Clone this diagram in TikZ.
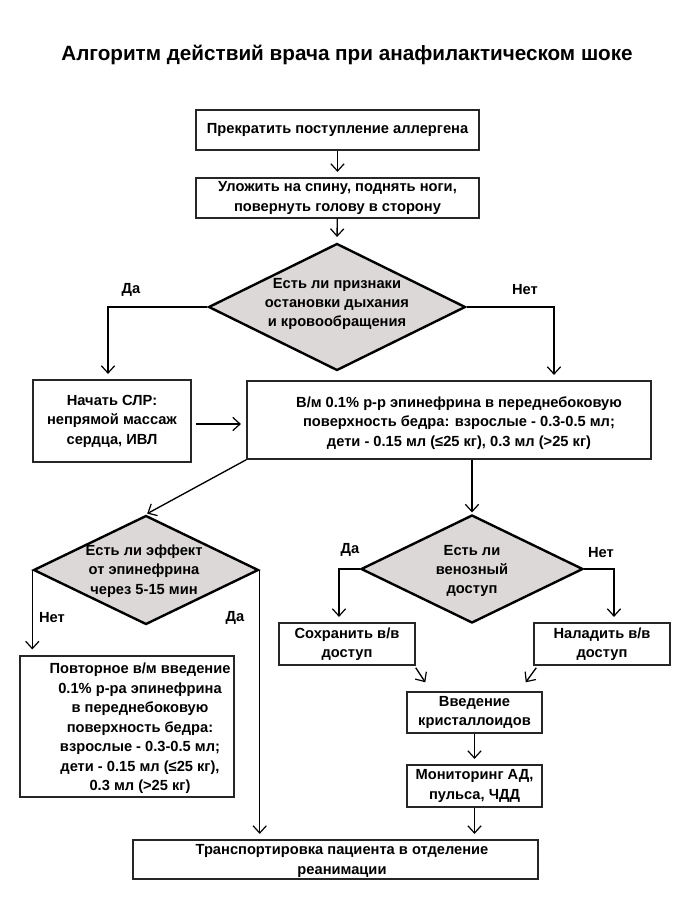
\documentclass[tikz,border=0pt]{standalone}
\usepackage{fontspec}
\setmainfont{Liberation Sans}
\usetikzlibrary{shapes.geometric,arrows.meta,calc}
\definecolor{dgray}{HTML}{DCD8D8}
\begin{document}
\begin{tikzpicture}[x=0.75pt,y=-0.75pt,
  every node/.style={font=\bfseries\fontsize{11pt}{14.6pt}\selectfont, align=center, inner sep=0pt},
  bx/.style n args={2}{draw=black!85, line width=1.1pt, minimum width=#1*0.75pt, minimum height=#2*0.75pt},
  dm/.style n args={2}{diamond, draw=black, line width=1.8pt, fill=dgray, minimum width=#1*0.75pt, minimum height=#2*0.75pt},
  arr/.style={draw=black, line width=1pt, -{Straight Barb[length=5.5pt,width=10pt,line width=0.9pt]}, shorten >=4pt},
  lbl/.style={font=\bfseries\fontsize{11pt}{12pt}\selectfont}]
\useasboundingbox[fill=white] (0,0) rectangle (685,917);

\node[font=\bfseries\fontsize{15.5pt}{18pt}\selectfont] (title) at (347,55) {Алгоритм действий врача при анафилактическом шоке};

\node[bx={283}{40}] (b1) at (337.5,130) {Прекратить поступление аллергена};
\node[bx={283}{40}] (b2) at (337.5,198) {Уложить на спину, поднять ноги,\\повернуть голову в сторону};
\node[dm={257}{127}] (d1) at (337,307) {};
\node (d1t) at (337,304) {Есть ли признаки\\остановки дыхания\\и кровообращения};

\node[bx={158}{82}] (cpr) at (112,421) {Начать СЛР:\\непрямой массаж\\сердца, ИВЛ};
\node[bx={404}{78}] (big) at (449,420) {};
\node (bigt) at (459,423) {В/м 0.1\% р-р эпинефрина в переднебоковую\\поверхность бедра: взрослые - 0.3-0.5 мл;\\дети - 0.15 мл (≤25 кг), 0.3 мл (>25 кг)};

\node[dm={225}{109}] (d2) at (146,570) {};
\node (d2t) at (144,571) {Есть ли эффект\\от эпинефрина\\через 5-15 мин};
\node[dm={222}{108}] (d3) at (472,569) {};
\node (d3t) at (472,571) {Есть ли\\венозный\\доступ};

\node[bx={136}{42}] (sav) at (347,644) {Сохранить в/в\\доступ};
\node[bx={136}{42}] (nal) at (602,644) {Наладить в/в\\доступ};

\node[bx={214}{141}, line width=1.8pt] (rep) at (127,726.5) {};
\node (rept) at (140,728.5) {Повторное в/м введение\\0.1\% р-ра эпинефрина\\в переднебоковую\\поверхность бедра:\\взрослые - 0.3-0.5 мл;\\дети - 0.15 мл (≤25 кг),\\0.3 мл (>25 кг)};

\node[bx={135}{41}] (vved) at (474.5,712.5) {Введение\\кристаллоидов};
\node[bx={135}{42}] (mon) at (474.5,786) {Мониторинг АД,\\пульса, ЧДД};
\node[bx={405}{39}] (trans) at (335.5,859.5) {};
\node (transt) at (342,861) {Транспортировка пациента в отделение\\реанимации};

\node[lbl] (l1) at (131,290) {Да};
\node[lbl] (l2) at (525,290) {Нет};
\node[lbl] (l3) at (350,550) {Да};
\node[lbl] (l4) at (601,553) {Нет};
\node[lbl] (l5) at (52,618) {Нет};
\node[lbl] (l6) at (235,618) {Да};

\draw[arr] (b1) -- (b2);
\draw[arr] (b2) -- (d1.north);
\draw[arr] (d1.west) -| ($(cpr.north)+(-4,0)$);
\draw[arr] (d1.east) -| ($(big.north)+(105,0)$);
\draw[arr] ($(cpr.east)+(4,3)$) -- ($(big.west)+(0,4)$);
\draw[arr, shorten >=1pt] (big.south west) -- (d2.north);
\draw[arr, shorten >=1pt] (d3.north |- big.south) -- (d3.north);
\draw[arr] (d2.west) -- (d2.west |- rep.north);
\draw[arr] (d2.east) -- (d2.east |- trans.north);
\draw[arr] (d3.west) -| ($(sav.north)+(-8,0)$);
\draw[arr] (d3.east) -| ($(nal.north)+(12,0)$);
\draw[arr, shorten >=0pt] ($(sav.south east)+(0,2)$) -- ($(vved.north west)+(19,-9)$);
\draw[arr, shorten >=0pt] ($(nal.south west)+(3,2)$) -- ($(vved.north east)+(-17,-9)$);
\draw[arr] (vved) -- (mon);
\draw[arr] (mon.south) -- (mon.south |- trans.north);
\end{tikzpicture}
\end{document}
